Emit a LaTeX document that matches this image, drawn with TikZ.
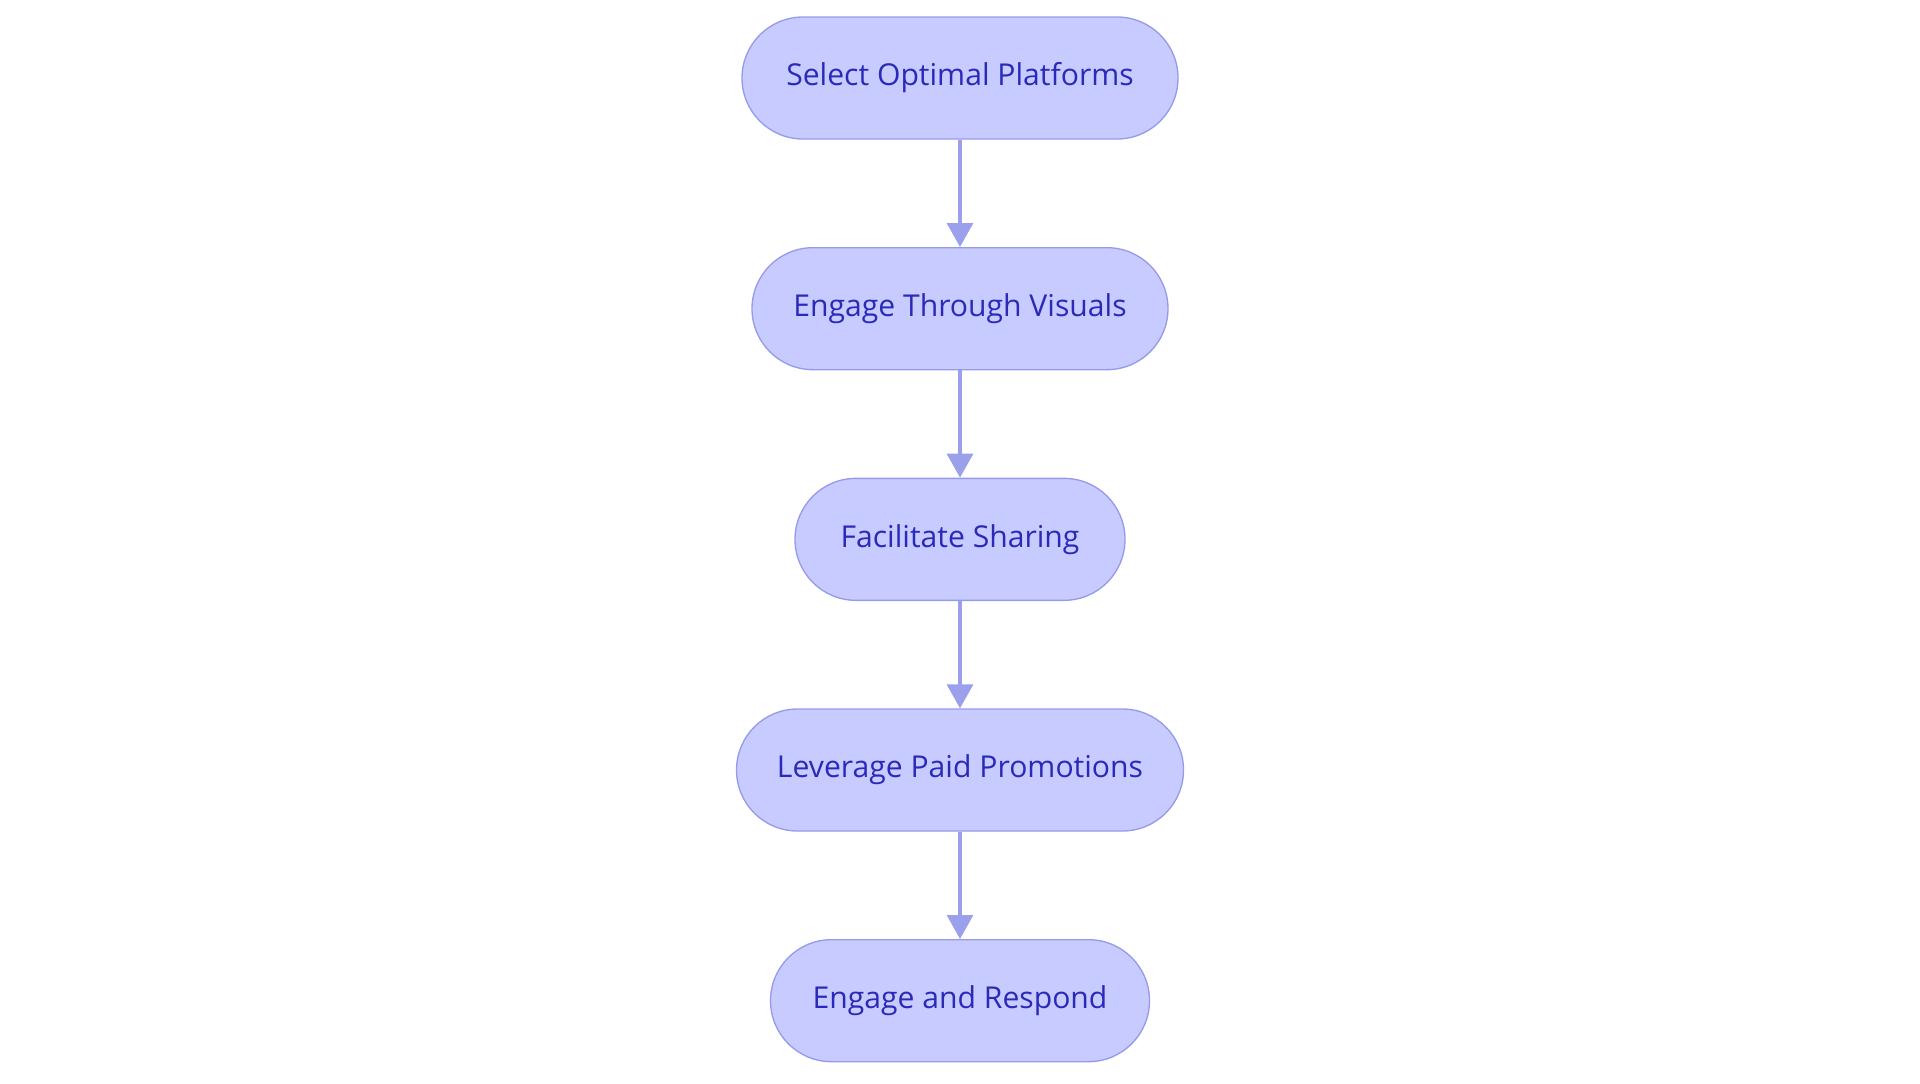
\documentclass[tikz,border=0pt]{standalone}
\usepackage{fontspec}
\setmainfont{Open Sans}
\definecolor{boxfill}{RGB}{200, 203, 255}
\definecolor{boxline}{RGB}{150, 155, 232}
\definecolor{arrowline}{RGB}{155, 160, 236}
\definecolor{boxtext}{RGB}{42, 42, 185}
\usetikzlibrary{arrows.meta, positioning}

\tikzset{
  stepbox/.style={draw=boxline, line width=1pt, fill=boxfill, rounded corners=45.75pt,
    minimum height=91.5pt, inner sep=0pt, text=boxtext, font=\fontsize{22.6}{27}\selectfont},
  flow/.style={draw=arrowline, line width=2.4pt, -{Triangle[length=18pt, width=19.5pt]}}
}

\begin{document}
\begin{tikzpicture}[node distance=80.5pt]
  \useasboundingbox (0,0) rectangle (1440pt,-812.25pt);

  % Steps
  \node[stepbox, minimum width=327pt] (platforms) at (720pt,-58.5pt) {Select Optimal Platforms};
  \node[stepbox, minimum width=312pt, below=of platforms] (visuals) {Engage Through Visuals};
  \node[stepbox, minimum width=247.5pt, below=of visuals] (sharing) {Facilitate Sharing};
  \node[stepbox, minimum width=335.25pt, below=of sharing] (promotions) {Leverage Paid Promotions};
  \node[stepbox, minimum width=284.25pt, below=of promotions] (respond) {Engage and Respond};

  % Connectors
  \draw[flow] (platforms) -- (visuals);
  \draw[flow] (visuals) -- (sharing);
  \draw[flow] (sharing) -- (promotions);
  \draw[flow] (promotions) -- (respond);
\end{tikzpicture}
\end{document}
